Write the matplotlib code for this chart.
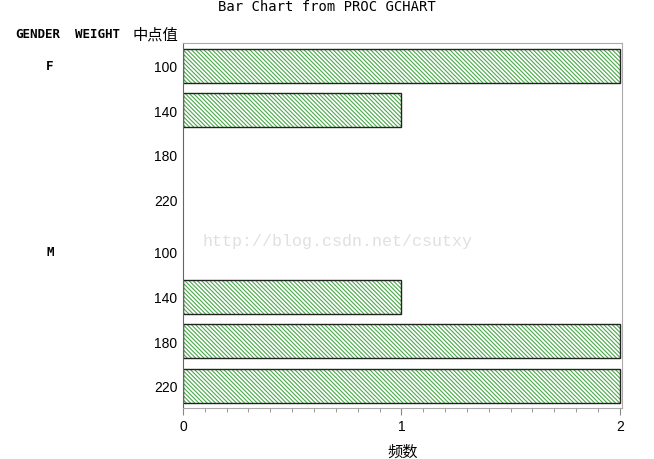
import matplotlib
matplotlib.use("Agg")
import matplotlib.pyplot as plt
from matplotlib.ticker import FixedLocator, MultipleLocator

plt.rcParams["font.family"] = ["Liberation Sans", "Noto Sans CJK SC", "DejaVu Sans"]
plt.rcParams["hatch.linewidth"] = 0.8

# Data
genders = ["F", "M"]
weights = ["100", "140", "180", "220"]
freq_f = [2, 1, 0, 0]
freq_m = [0, 1, 2, 2]
freqs = [freq_f, freq_m]

# Layout: bars within a group are 1 unit apart, groups get a small extra gap
group_gap = 0.18
bar_h = 0.76
mono = ["DejaVu Sans Mono", "Noto Sans CJK SC"]

fig = plt.figure(figsize=(6.54, 4.60), dpi=100)
ax = fig.add_axes([0.2798, 0.1109, 0.6708, 0.7935])

positions = []
labels = []
for g, gender in enumerate(genders):
    for i, w in enumerate(weights):
        pos = g * (len(weights) + group_gap) + i
        positions.append(pos)
        labels.append(w)
        val = freqs[g][i]
        if val > 0:
            ax.barh(pos, val, height=bar_h, color="white", hatch="\\" * 8,
                    edgecolor="#4aa84a", linewidth=0)
            ax.barh(pos, val, height=bar_h, fill=False, edgecolor="#222222",
                    linewidth=1.0)

ax.set_ylim(positions[-1] + bar_h / 2 + 0.12, positions[0] - bar_h / 2 - 0.13)
ax.set_xlim(0, 2.009)
ax.set_yticks(positions)
ax.set_yticklabels(labels, fontsize=10)
ax.tick_params(axis="y", length=0, pad=4)

ax.xaxis.set_major_locator(FixedLocator([0, 1, 2]))
ax.xaxis.set_minor_locator(MultipleLocator(0.1))
ax.set_xticklabels(["0", "1", "2"])
ax.tick_params(axis="x", which="major", length=5, color="#888888", labelsize=10, pad=3)
ax.tick_params(axis="x", which="minor", length=3, color="#888888")

for side in ["top", "right", "bottom"]:
    ax.spines[side].set_color("#aaaaaa")
ax.spines["left"].set_color("#666666")

ax.set_xlabel("频数", fontsize=11, labelpad=7, family="Noto Sans CJK SC")

# Group labels on the left
for g, gender in enumerate(genders):
    pos = g * (len(weights) + group_gap)
    ax.text(-0.303, pos, gender, fontsize=9, ha="center", va="center",
            family=mono, fontweight="bold", transform=ax.get_yaxis_transform())

fig.text(0.023, 0.924, "GENDER", fontsize=9, va="center", family=mono, fontweight="bold")
fig.text(0.114, 0.924, "WEIGHT", fontsize=9, va="center", family=mono, fontweight="bold")
fig.text(0.203, 0.924, "中点值", fontsize=11, va="center", family="Noto Sans CJK SC")

fig.text(0.5, 0.984, "Bar Chart from PROC GCHART", fontsize=10, ha="center",
         va="center", family=mono)

# Watermark
fig.text(0.309, 0.476, "http://blog.csdn.net/csutxy", fontsize=12, color="#e0e0e0",
         family="Liberation Mono", va="center")

fig.savefig("out.png", dpi=100)
